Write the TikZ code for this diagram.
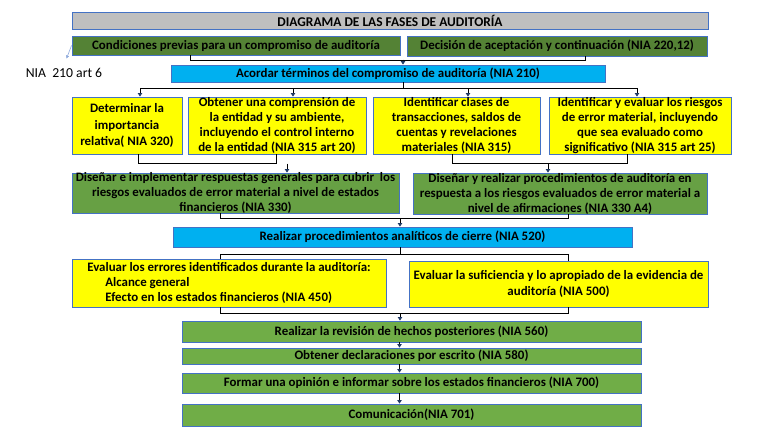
\documentclass[tikz,border=0pt]{standalone}
\usepackage{fontspec}
\setmainfont{Carlito}
\usetikzlibrary{arrows.meta}
\definecolor{borde}{HTML}{4472C4}
\definecolor{gristit}{HTML}{BFBFBF}
\definecolor{verdeosc}{HTML}{548235}
\definecolor{verdemed}{HTML}{67A044}
\definecolor{verdecla}{HTML}{70AD47}
\definecolor{amarillo}{HTML}{FFFF00}
\definecolor{celeste}{HTML}{00B0F0}
\definecolor{azulflecha}{HTML}{1F3864}
\definecolor{azulclaro}{HTML}{8FAADC}

\begin{document}
\begin{tikzpicture}[x=1pt,y=-1pt,
  caja/.style={draw=borde,line width=0.9pt,inner sep=1pt,align=center,
    font=\fontsize{12.9}{13.6}\selectfont\bfseries},
  cajagris/.style={caja,fill=gristit,font=\fontsize{13.4}{14}\selectfont\bfseries},
  cajaosc/.style={caja,fill=verdeosc},
  cajamed/.style={caja,fill=verdemed,inner ysep=-2pt,font=\fontsize{12.9}{15}\selectfont\bfseries},
  cajacla/.style={caja,fill=verdecla},
  cajacel/.style={caja,fill=celeste},
  cajaam/.style={caja,fill=amarillo,inner ysep=-1.5pt,font=\fontsize{12.9}{14.8}\selectfont\bfseries},
  linea/.style={line width=0.8pt,draw=black},
  flecha/.style={line width=0.8pt,draw=black,-{Triangle[length=3.5pt,width=4.5pt,color=azulflecha]}},
  flechaclara/.style={line width=0.6pt,draw=azulclaro,-{Triangle[length=3pt,width=3pt]}}]
\useasboundingbox (0,0) rectangle (768,433);

\node[cajagris,minimum width=636,minimum height=17] (titulo) at (390,20.5) {DIAGRAMA DE LAS FASES DE AUDITORÍA};
\node[cajaosc,minimum width=328,minimum height=19] (previas) at (236,45.5) {Condiciones previas para un compromiso de auditoría};
\node[cajaosc,minimum width=300,minimum height=20] (decision) at (557,46) {Decisión de aceptación y continuación (NIA 220,12)};
\node[font=\fontsize{13.7}{15}\selectfont] (art6) at (64,73) {NIA\ \ 210 art 6};
\coordinate (p6) at (66.5,58.5);
\node[cajacel,minimum width=434,minimum height=17] (acordar) at (388,73.5) {Acordar términos del compromiso de auditoría (NIA 210)};

\node[cajaam,minimum width=110,minimum height=57,font=\fontsize{12.9}{16.5}\selectfont\bfseries] (imp) at (127,125.5) {Determinar la\\importancia\\relativa( NIA 320)};
\node[cajaam,minimum width=178,minimum height=57] (comp) at (277,125.5) {Obtener una comprensión de\\la entidad y su ambiente,\\incluyendo el control interno\\de la entidad (NIA 315 art 20)};
\node[cajaam,minimum width=167,minimum height=57] (clas) at (456.5,125.5) {Identificar clases de\\transacciones, saldos de\\cuentas y revelaciones\\materiales (NIA 315)};
\node[cajaam,minimum width=182,minimum height=57] (riesg) at (640,125.5) {Identificar y evaluar los riesgos\\de error material, incluyendo\\que sea evaluado como\\significativo (NIA 315 art 25)};

\node[cajamed,minimum width=327,minimum height=40] (respgen) at (235.5,193) {Diseñar e implementar respuestas generales para cubrir\ \ los\\riesgos evaluados de error material a nivel de estados\\financieros (NIA 330)};
\node[cajamed,minimum width=294,minimum height=41] (respaf) at (560,193.5) {Diseñar y realizar procedimientos de auditoría en\\respuesta a los riesgos evaluados de error material a\\nivel de afirmaciones (NIA 330 A4)};

\node[cajacel,minimum width=459,minimum height=20] (cierre) at (402.5,237) {Realizar procedimientos analíticos de cierre (NIA 520)};

\node[cajaam,align=left,minimum width=314,minimum height=48,font=\fontsize{12.9}{15}\selectfont\bfseries] (everr) at (229,283) {Evaluar los errores identificados durante la auditoría:\\\hspace*{18pt}Alcance general\\\hspace*{18pt}Efecto en los estados financieros (NIA 450)};
\node[cajaam,minimum width=299,minimum height=46,font=\fontsize{12.9}{16.5}\selectfont\bfseries] (evsuf) at (558.5,284) {Evaluar la suficiencia y lo apropiado de la evidencia de\\auditoría (NIA 500)};

\node[cajacla,minimum width=459,minimum height=21] (rev) at (411.5,331.5) {Realizar la revisión de hechos posteriores (NIA 560)};
\node[cajacla,minimum width=459,minimum height=16] (decl) at (411.5,356) {Obtener declaraciones por escrito (NIA 580)};
\node[cajacla,minimum width=459,minimum height=20] (form) at (411.5,383) {Formar una opinión e informar sobre los estados financieros (NIA 700)};
\node[cajacla,minimum width=459,minimum height=22] (comun) at (411.5,415) {Comunicación(NIA 701)};

\draw[flechaclara] (previas.west) -- (p6);

\draw[linea] ([xshift=-46pt]previas.south) -- ++(0,5) -| ([xshift=28pt]decision.south);
\draw[flecha] ([xshift=15pt,yshift=5pt]acordar.north) -- ([xshift=15pt]acordar.north);

\draw[linea] ([xshift=15pt]acordar.south) -- ++(0,6) coordinate (bus1);
\foreach \n/\d in {imp/13,comp/16,clas/11.5,riesg/-3} {
  \coordinate (t\n) at ([xshift=\d pt]\n.north);
  \draw[flecha] (t\n |- bus1) -- (t\n);
}
\draw[linea] (timp |- bus1) -- (triesg |- bus1);

\draw[linea] ([xshift=11pt]imp.south) -- ++(0,8.5) -| ([xshift=-1pt]comp.south);
\draw[flecha] ([xshift=51.5pt,yshift=9pt]respgen.north) -- ([xshift=51.5pt]respgen.north);
\draw[linea] ([xshift=-4.5pt]clas.south) -- ++(0,9) -| ([xshift=-13pt]riesg.south);
\draw[flecha] ([xshift=-12pt,yshift=9pt]respaf.north) -- ([xshift=-12pt]respaf.north);

\draw[linea] ([xshift=-15.5pt]respgen.south) -- ++(0,5) -| ([xshift=8pt]respaf.south);
\draw[flecha] ([xshift=-2.5pt,yshift=8pt]cierre.north) -- ([xshift=-2.5pt]cierre.north);

\draw[linea] ([xshift=-2.5pt]cierre.south) -- ++(0,7) coordinate (bus3);
\draw[linea] ([xshift=-9pt]everr.north) |- (bus3) -| ([xshift=9.5pt]evsuf.north);

\draw[linea] ([xshift=-9pt]everr.south) -- ++(0,6) -| ([xshift=9.5pt]evsuf.south);
\draw[flecha] ([xshift=-11.5pt,yshift=7pt]rev.north) -- ([xshift=-11.5pt]rev.north);

\foreach \a/\b in {rev/decl,decl/form,form/comun}
  \draw[flecha] ([xshift=-12pt]\a.south) -- ([xshift=-12pt]\b.north);
\end{tikzpicture}
\end{document}
